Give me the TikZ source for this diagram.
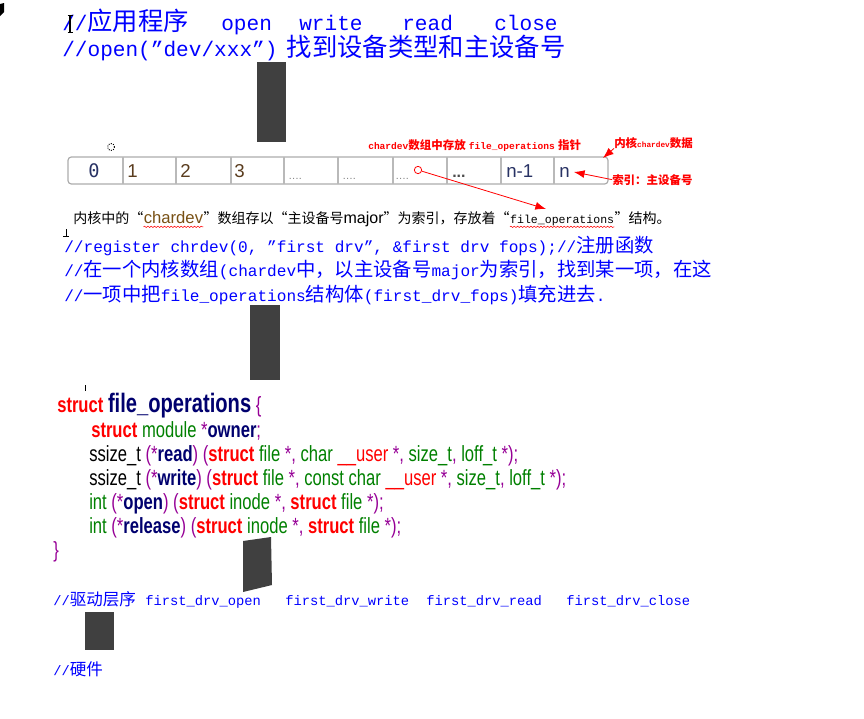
\documentclass[tikz,border=0pt]{standalone}
\usepackage{fontspec}
\setmainfont{Liberation Sans}
\setmonofont[Scale=0.833]{Liberation Mono}
\newfontfamily\cjk{Noto Sans CJK SC}
\newfontfamily\codefont[FakeStretch=0.755]{Liberation Sans}
\newfontfamily\zerofont{DejaVu Sans Mono}
\usetikzlibrary{arrows.meta}
\usetikzlibrary{decorations.pathmorphing}
\definecolor{textblue}{RGB}{0,0,255}
\definecolor{barGray}{RGB}{64,64,64}
\definecolor{kwred}{RGB}{255,0,0}
\definecolor{tygreen}{RGB}{0,128,0}
\definecolor{pupurple}{RGB}{150,0,150}
\definecolor{fnnavy}{RGB}{0,0,110}
\definecolor{chbrown}{RGB}{120,80,20}
\definecolor{cellbrown}{RGB}{90,60,30}
\definecolor{cellnavy}{RGB}{40,50,100}
\newcommand\zh[1]{{\cjk #1}}
\newcommand\kw[1]{{\color{kwred}\bfseries #1}}
\newcommand\ty[1]{{\color{tygreen}#1}}
\newcommand\pu[1]{{\color{pupurple}#1}}
\newcommand\fn[1]{{\color{fnnavy}\bfseries #1}}
\newcommand\us[1]{{\color{kwred}#1}}
\tikzstyle{blue_text}=[anchor=base west,inner sep=0pt,text=textblue]
\tikzstyle{plain_text}=[anchor=base west,inner sep=0pt,text=black,font=\fontsize{10.5}{13}\selectfont]
\tikzstyle{note}=[anchor=base west,inner sep=0pt,text=red,font=\fontsize{8.6}{10}\selectfont\bfseries]
\tikzstyle{pointer}=[-{Latex[length=8pt,width=6pt]},draw=red,line width=0.6pt]
\tikzstyle{bar}=[fill=barGray,draw=none]
\tikzstyle{code_line}=[anchor=base west,inner sep=0pt,font=\codefont\fontsize{16.5}{20}\selectfont]
\tikzstyle{cell_text}=[anchor=base west,inner sep=0pt,font=\fontsize{14}{16}\selectfont]
\tikzstyle{squiggle}=[draw=red,decorate,decoration={snake,amplitude=0.5pt,segment length=2.5pt},line width=0.4pt]

\begin{document}
\begin{tikzpicture}[x=0.75pt,y=-0.75pt]
	\useasboundingbox (0,0) rectangle (864,718);
	% application layer
	\begin{scope}[font=\fontsize{19}{23}\selectfont]
		\node [style={blue_text}] (app) at (62,30) {{\ttfamily //}\zh{应用程序}};
		\node [style={blue_text}] (open) at (221,30) {\ttfamily open};
		\node [style={blue_text}] (write) at (299,30) {\ttfamily write};
		\node [style={blue_text}] (read) at (402,30) {\ttfamily read};
		\node [style={blue_text}] (close) at (494,30) {\ttfamily close};
		\node [style={blue_text}] (find) at (62,56) {{\ttfamily //open(”dev/xxx”)\hspace{7pt}}\zh{找到设备类型和主设备号}};
	\end{scope}
	\fill [style=bar] (257,62) rectangle (286,142);

	% chardev array
	\draw [draw=gray!65, line width=0.9pt, rounded corners=2.5pt] (68,157) rectangle (608,184);
	\foreach \x in {123,176,231,284,338,393,447,501,554}
		\draw [draw=gray!55, line width=0.8pt] (\x,157) -- (\x,184);
	\node [style={cell_text}, text=cellnavy, font=\zerofont\fontsize{14}{16}\selectfont] (c0) at (88,177) {0};
	\node [style={cell_text}, text=cellbrown] (c1) at (127,177) {1};
	\node [style={cell_text}, text=cellbrown] (c2) at (180,177) {2};
	\node [style={cell_text}, text=cellbrown] (c3) at (234,177) {3};
	\node [style={cell_text}, text=gray, font=\fontsize{8}{10}\selectfont] (c4) at (288,179) {….};
	\node [style={cell_text}, text=gray, font=\fontsize{8}{10}\selectfont] (c5) at (342,179) {….};
	\node [style={cell_text}, text=gray, font=\fontsize{8}{10}\selectfont] (c6) at (395,179) {….};
	\node [style={cell_text}, text=black!70, font=\fontsize{12}{14}\selectfont\bfseries] (c7) at (452,177) {...};
	\node [style={cell_text}, text=cellnavy] (c8) at (506,177) {n-1};
	\node [style={cell_text}, text=cellnavy] (c9) at (559,177) {n};
	\node [draw=red, circle, minimum size=5.5pt, inner sep=0pt, line width=0.6pt] (sel) at (418,170) {};

	% notes on the array
	\node [style=note] (holds) at (368,149) {{\ttfamily chardev}\zh{数组中存放} {\ttfamily file\_operations} \zh{指针}};
	\node [style=note] (kern) at (614,147) {\zh{内核}{\ttfamily\fontsize{7}{8}\selectfont chardev}\zh{数据}};
	\node [style=note] (idx) at (612,184) {\zh{索引：主设备号}};
	\coordinate (corner) at (603,158);
	\coordinate (fopsTip) at (546,209);
	\draw [style=pointer] (kern.south west) to (corner);
	\draw [style=pointer] (idx.west) to ([xshift=3pt]c9.east);
	\draw [style=pointer] (sel) to (fopsTip);

	% explanation
	\node [style={plain_text}] (kn1) at (73,223.5) {\zh{内核中的“}};
	\node [style={plain_text}, text=chbrown, font=\fontsize{12.5}{14}\selectfont] (chd) at (kn1.base east) {chardev};
	\node [style={plain_text}] (kn2) at (chd.base east) {\zh{”数组存以“主设备号}{\fontsize{12}{14}\selectfont major}\zh{”为索引，存放着“}};
	\node [style={plain_text}] (fops) at (kn2.base east) {\ttfamily\fontsize{10.4}{12}\selectfont file\_operations};
	\node [style={plain_text}] (kn3) at (fops.base east) {\zh{”结构。}};
	\draw [style=squiggle] ([yshift=-2.5pt]chd.base west) -- ([yshift=-2.5pt]chd.base east);
	\draw [style=squiggle] ([yshift=-2.5pt]fops.base west) -- ([yshift=-2.5pt]fops.base east);

	% register
	\begin{scope}[font=\fontsize{14.5}{17}\selectfont]
		\node [style={blue_text}] (reg) at (64,252) {{\ttfamily //register chrdev(0, ”first drv”, \&first drv fops);//}\zh{注册函数}};
		\node [style={blue_text}] (reg2) at (64,276.5) {{\ttfamily //}\zh{在一个内核数组}{\ttfamily (chardev}\zh{中，以主设备号}{\ttfamily major}\zh{为索引，找到某一项，在这}};
		\node [style={blue_text}] (reg3) at (64,301.5) {{\ttfamily //}\zh{一项中把}{\ttfamily file\_operations}\zh{结构体}{\ttfamily (first\_drv\_fops)}\zh{填充进去}{\ttfamily .}};
	\end{scope}
	\fill [style=bar] (250,305) rectangle (280,380);

	% file_operations
	\node [style={code_line}] (hdr) at (57,412) {\kw{struct} {\fontsize{20}{24}\selectfont\fn{file\_operations}} \pu{\{}};
	\node [style={code_line}] (l1) at (91,437) {\kw{struct} \ty{module} \pu{*}\fn{owner}\pu{;}};
	\node [style={code_line}] (l2) at (89,461) {ssize\_t \pu{(*}\fn{read}\pu{)} \pu{(}\kw{struct} \ty{file} \pu{*,} \ty{char} \us{\_\_user} \pu{*,} \ty{size\_t}\pu{,} \ty{loff\_t} \pu{*);}};
	\node [style={code_line}] (l3) at (89,485) {ssize\_t \pu{(*}\fn{write}\pu{)} \pu{(}\kw{struct} \ty{file} \pu{*,} \ty{const char} \us{\_\_user} \pu{*,} \ty{size\_t}\pu{,} \ty{loff\_t} \pu{*);}};
	\node [style={code_line}] (l4) at (89,509) {\ty{int} \pu{(*}\fn{open}\pu{)} \pu{(}\kw{struct} \ty{inode} \pu{*,} \kw{struct} \ty{file} \pu{*);}};
	\node [style={code_line}] (l5) at (89,533) {\ty{int} \pu{(*}\fn{release}\pu{)} \pu{(}\kw{struct} \ty{inode} \pu{*,} \kw{struct} \ty{file} \pu{*);}};
	\node [style={code_line}] (rb) at (53,557) {\pu{\}}};
	\fill [style=bar] (243,541) -- (271,537) -- (272,585) -- (243,592) -- cycle;

	% driver layer
	\begin{scope}[font=\fontsize{12.4}{15}\selectfont]
		\node [style={blue_text}] (drv) at (53,605) {{\ttfamily //}\zh{驱动层序}};
		\node [style={blue_text}] (dopen) at (145,605) {\ttfamily first\_drv\_open};
		\node [style={blue_text}] (dwrite) at (285,605) {\ttfamily first\_drv\_write};
		\node [style={blue_text}] (dread) at (426,605) {\ttfamily first\_drv\_read};
		\node [style={blue_text}] (dclose) at (566,605) {\ttfamily first\_drv\_close};
		\node [style={blue_text}] (hw) at (53,675) {{\ttfamily //}\zh{硬件}};
	\end{scope}
	\fill [style=bar] (85,612) rectangle (114,650);

	% stray marks
	\fill (0,4) -- (4,3) -- (4,12) -- (0,16) -- cycle;
	\draw [line width=0.8pt] (70,15) -- (70,32);
	\draw [line width=0.6pt] (67.5,15) -- (72.5,15) (67.5,32) -- (72.5,32);
	\draw [densely dotted, line width=0.7pt] (111,147) circle (2.6pt);
	\draw [line width=0.5pt] (66,229) -- (66,236) (63,236) -- (69,236);
	\draw [line width=0.5pt] (85,385) -- (85,391);
\end{tikzpicture}
\end{document}
